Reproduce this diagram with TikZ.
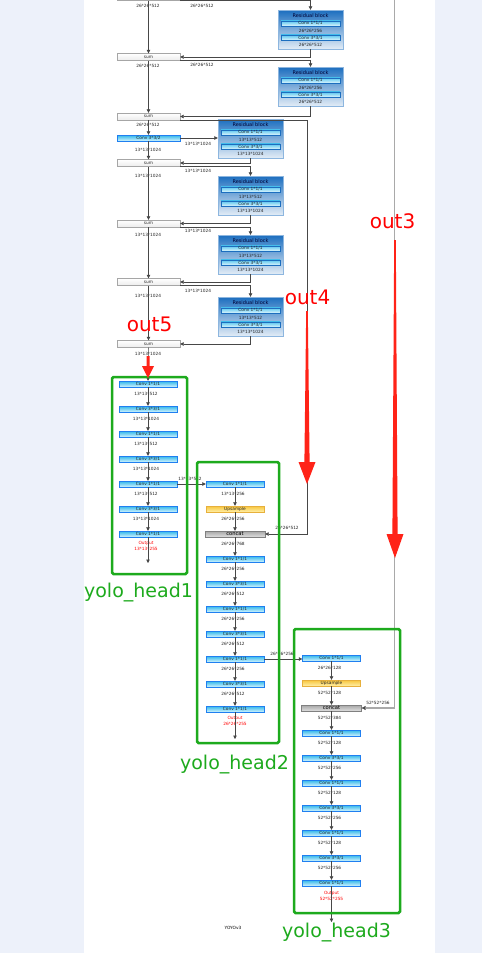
\documentclass[tikz,border=0pt]{standalone}
\usepackage{fontspec}
\setmainfont{DejaVu Sans}
\usetikzlibrary{arrows.meta,calc,shadows}

\definecolor{pagebg}{HTML}{EDF1FA}
\definecolor{headgreen}{HTML}{1DAA1D}
\definecolor{outred}{HTML}{FF2318}
\definecolor{wire}{HTML}{474747}
\definecolor{wirelight}{HTML}{A9A9A9}
\definecolor{resdark}{HTML}{1C6EBF}
\definecolor{reslight}{HTML}{E2ECF6}
\definecolor{cyantop}{HTML}{D2F3FD}
\definecolor{cyanbot}{HTML}{2EB6EA}
\definecolor{goldtop}{HTML}{FFEFA8}
\definecolor{goldbot}{HTML}{F8C53A}

\newcommand\convA{Conv 1*1/1}
\newcommand\convB{Conv 3*3/1}

\tikzset{
  tinytext/.style={font=\fontsize{4.3}{6}\selectfont, text=black!85},
  dimlabel/.style={tinytext, inner sep=0pt},
  barshadow/.style={drop shadow={shadow xshift=0.5pt, shadow yshift=-0.8pt, opacity=0.3}},
  convbar/.style={tinytext, barshadow, draw=cyanbot!70!blue, line width=0.3pt,
    top color=cyanbot, bottom color=cyantop, minimum width=58pt, minimum height=6pt, inner sep=0pt},
  upbar/.style={convbar, draw=goldbot!70!brown, top color=goldbot, bottom color=goldtop},
  catbar/.style={convbar, font=\fontsize{5.2}{6}\selectfont, text=black, draw=gray,
    top color=gray!70, bottom color=gray!25, minimum width=60pt},
  sumbox/.style={tinytext, barshadow, draw=gray!70, line width=0.3pt, top color=white,
    bottom color=gray!15, minimum width=63pt, minimum height=7pt, inner sep=0pt},
  resbox/.style={barshadow, draw=resdark!50, line width=0.3pt, top color=resdark,
    bottom color=reslight, minimum width=65pt, minimum height=39pt, inner sep=0pt},
  restitle/.style={font=\fontsize{5}{6}\selectfont, text=blue!20!black, inner sep=0pt},
  resbar/.style={tinytext, draw=resdark, line width=0.3pt, top color=cyanbot!80,
    bottom color=cyantop!60, minimum width=59pt, minimum height=5.5pt, inner sep=0pt},
  outlabel/.style={tinytext, text=red, align=center, inner sep=0pt},
  link/.style={draw=wire, line width=0.6pt, -{Triangle[length=3.5pt,width=3.5pt]}},
  trunk/.style={draw=wirelight, line width=1.9pt,
    -{Triangle[length=4pt,width=4pt,line width=0.4pt,color=wire]}},
  headframe/.style={draw=headgreen, line width=2.5pt, rounded corners=1.5pt},
  headname/.style={text=headgreen, font=\fontsize{19}{22}\selectfont, anchor=base, inner sep=0pt},
  outname/.style={text=red, font=\fontsize{20}{24}\selectfont, anchor=base, inner sep=0pt},
}

% one residual block: name, x, top y, middle size, output size
\newcommand\resblock[5]{%
  \node[resbox] (#1) at (#2,#3+19.5) {};
  \node[restitle] (#1t) at (#2,#3+5.5) {Residual block};
  \node[resbar] (#1a) at (#2,#3+13.5) {\convA};
  \node[dimlabel] (#1m) at (#2,#3+20.7) {#4};
  \node[resbar] (#1b) at (#2,#3+27.7) {\convB};
  \node[dimlabel] (#1o) at (#2,#3+35) {#5};
}

% red pointer: top, tip, shaft half width at top and bottom, head half width, head length
\newcommand\redarrow[6]{%
  \fill[outred] ($(#1)+(-#3,0)$) -- ($(#2)+(-#4,-#6)$) -- ($(#2)+(-#5,-#6)$) -- (#2)
    -- ($(#2)+(#5,-#6)$) -- ($(#2)+(#4,-#6)$) -- ($(#1)+(#3,0)$) -- cycle;
}

\begin{document}
\begin{tikzpicture}[x=1pt,y=-1pt]
\useasboundingbox (0,0) rectangle (482,953);
\clip (0,0) rectangle (482,953);
\fill[pagebg] (0,0) rectangle (482,953);
\fill[white] (84,0) rectangle (435,953);

% backbone column
\node[sumbox] (sum0) at (148.5,-3) {};
\node[sumbox] (sum1) at (148.5,57) {sum};
\node[sumbox] (sum2) at (148.5,116.5) {sum};
\node[convbar, minimum width=63pt] (conv32) at (148.5,138) {Conv 3*3/2};
\node[sumbox] (sum3) at (148.5,163) {sum};
\node[sumbox] (sum4) at (148.5,223.5) {sum};
\node[sumbox] (sum5) at (148.5,282) {sum};
\node[sumbox] (sum6) at (148.5,344) {sum};

\foreach \y/\d [count=\i] in {5.5/26*26*512,66/26*26*512,124.5/26*26*512,150/13*13*1024,
    176/13*13*1024,235/13*13*1024,296/13*13*1024,354/13*13*1024}
  \node[dimlabel] (l\i) at (148,\y) {\d};
\foreach \x/\y/\d [count=\i] in {202/5.5/26*26*512,202/64.5/26*26*512,198/143.5/13*13*1024,
    198/171/13*13*1024,198/231/13*13*1024,198/291/13*13*1024}
  \node[dimlabel] (r\i) at (\x,\y) {\d};

\resblock{res1}{310.5}{10}{26*26*256}{26*26*512}
\resblock{res2}{310.5}{67}{26*26*256}{26*26*512}
\resblock{res3}{250.5}{119}{13*13*512}{13*13*1024}
\resblock{res4}{250.5}{176}{13*13*512}{13*13*1024}
\resblock{res5}{250.5}{235}{13*13*512}{13*13*1024}
\resblock{res6}{250.5}{297}{13*13*512}{13*13*1024}

% yolo_head1
\foreach \t [count=\i] in {\convA,\convB,\convA,\convB,\convA,\convB,\convA}
  \node[convbar] (ha\i) at (148,359+25*\i) {\t};
\foreach \d [count=\i] in {13*13*512,13*13*1024,13*13*512,13*13*1024,13*13*512,13*13*1024}
  \node[dimlabel] (ha\i d) at (146,368.5+25*\i) {\d};
\node[outlabel] (haout) at (146,546) {Output\\13*13*255};
\coordinate (haend) at (148,563);

% yolo_head2
\node[convbar] (hb1) at (235,484) {\convA};
\node[upbar] (hb2) at (235,509) {Upsample};
\node[catbar] (hb3) at (235,534) {concat};
\foreach \t [count=\i from 4] in {\convA,\convB,\convA,\convB,\convA,\convB,\convA}
  \node[convbar] (hb\i) at (235,459+25*\i) {\t};
\foreach \d [count=\i] in {13*13*256,26*26*256,26*26*768,26*26*256,26*26*512,26*26*256,
    26*26*512,26*26*256,26*26*512}
  \node[dimlabel] (hb\i d) at (233,468.5+25*\i) {\d};
\node[outlabel] (hbout) at (235,721) {Output\\26*26*255};
\coordinate (hbend) at (235,739);

% yolo_head3
\node[convbar] (hc1) at (331.5,658) {\convA};
\node[upbar] (hc2) at (331.5,683) {Upsample};
\node[catbar] (hc3) at (331.5,708) {concat};
\foreach \t [count=\i from 4] in {\convA,\convB,\convA,\convB,\convA,\convB,\convA}
  \node[convbar] (hc\i) at (331.5,633+25*\i) {\t};
\foreach \d [count=\i] in {26*26*128,52*52*128,52*52*384,52*52*128,52*52*256,52*52*128,
    52*52*256,52*52*128,52*52*256}
  \node[dimlabel] (hc\i d) at (329.5,642.5+25*\i) {\d};
\node[outlabel] (hcout) at (331.5,895.5) {Output\\52*52*255};
\coordinate (hcend) at (331.5,922);

% connectors
\foreach \a/\b in {sum0/sum1,sum1/sum2,sum2/conv32,conv32/sum3,sum3/sum4,sum4/sum5,sum5/sum6,sum6/ha1}
  \draw[link] (\a) -- (\b);
\draw[link] (sum0.south east) -| (res1.north);
\draw[link] (res1.south) |- (sum1.east);
\draw[link] (sum1.south east) -| (res2.north);
\draw[link] (res2.south) |- (sum2.east);
\draw[link] (conv32.east) -- (conv32.east -| res3.west);
\foreach \r/\s in {res3/sum3,res4/sum4,res5/sum5,res6/sum6}
  \draw[link] (\r.south) |- (\s.east);
\foreach \s/\r in {sum3/res4,sum4/res5,sum5/res6}
  \draw[link] (\s.south east) -| (\r.north);

\foreach \i [remember=\i as \j (initially 1)] in {2,...,7}
  \draw[link] (ha\j) -- (ha\i);
\foreach \i [remember=\i as \j (initially 1)] in {2,...,10}
  \draw[link] (hb\j) -- (hb\i);
\foreach \i [remember=\i as \j (initially 1)] in {2,...,10}
  \draw[link] (hc\j) -- (hc\i);
\draw[link] (ha7) -- (haend);
\draw[link] (hb10) -- (hbend);
\draw[link] (hc10) -- (hcend);

\draw[link] (ha5) -- (hb1);
\node[dimlabel] (x1) at (190,478.5) {13*13*512};
\draw[link] (hb8.east) -- (hb8.east -| hc1.west);
\node[dimlabel] (x2) at (282,653.5) {26*26*256};

\coordinate (o4) at (307,534);
\draw[link] (sum2.south east) -| (o4) -- (hb3.east);
\node[dimlabel] (x3) at (287,527.5) {26*26*512};
\coordinate (o3) at (394.5,0);
\draw[trunk] (o3) |- (hc3.east);
\node[dimlabel] (x4) at (378,702.5) {52*52*256};

% head frames and names
\draw[headframe] (112,377) rectangle (187,574);
\draw[headframe] (197,462) rectangle (279,743);
\draw[headframe] (294,629) rectangle (400,913);
\node[headname] (name1) at (138.5,597) {yolo\_head1};
\node[headname] (name2) at (234.5,769) {yolo\_head2};
\node[headname] (name3) at (336.5,937.5) {yolo\_head3};
\node[tinytext, text=black] (title) at (233,928) {YOYOv3};

% out markers
\node[outname] (out5) at (149.5,331) {out5};
\node[outname] (out4) at (307.5,304) {out4};
\node[outname] (out3) at (392.5,228) {out3};
\coordinate (r5a) at (148,356); \coordinate (r5b) at (148,378);
\coordinate (r4a) at (307,311); \coordinate (r4b) at (307,484);
\coordinate (r3a) at (395,240); \coordinate (r3b) at (395,558);
\redarrow{r5a}{r5b}{1.5}{1.5}{6}{12}
\redarrow{r4a}{r4b}{0.8}{2.6}{8.5}{22}
\redarrow{r3a}{r3b}{0.8}{2.6}{8.5}{24}
\end{tikzpicture}
\end{document}
